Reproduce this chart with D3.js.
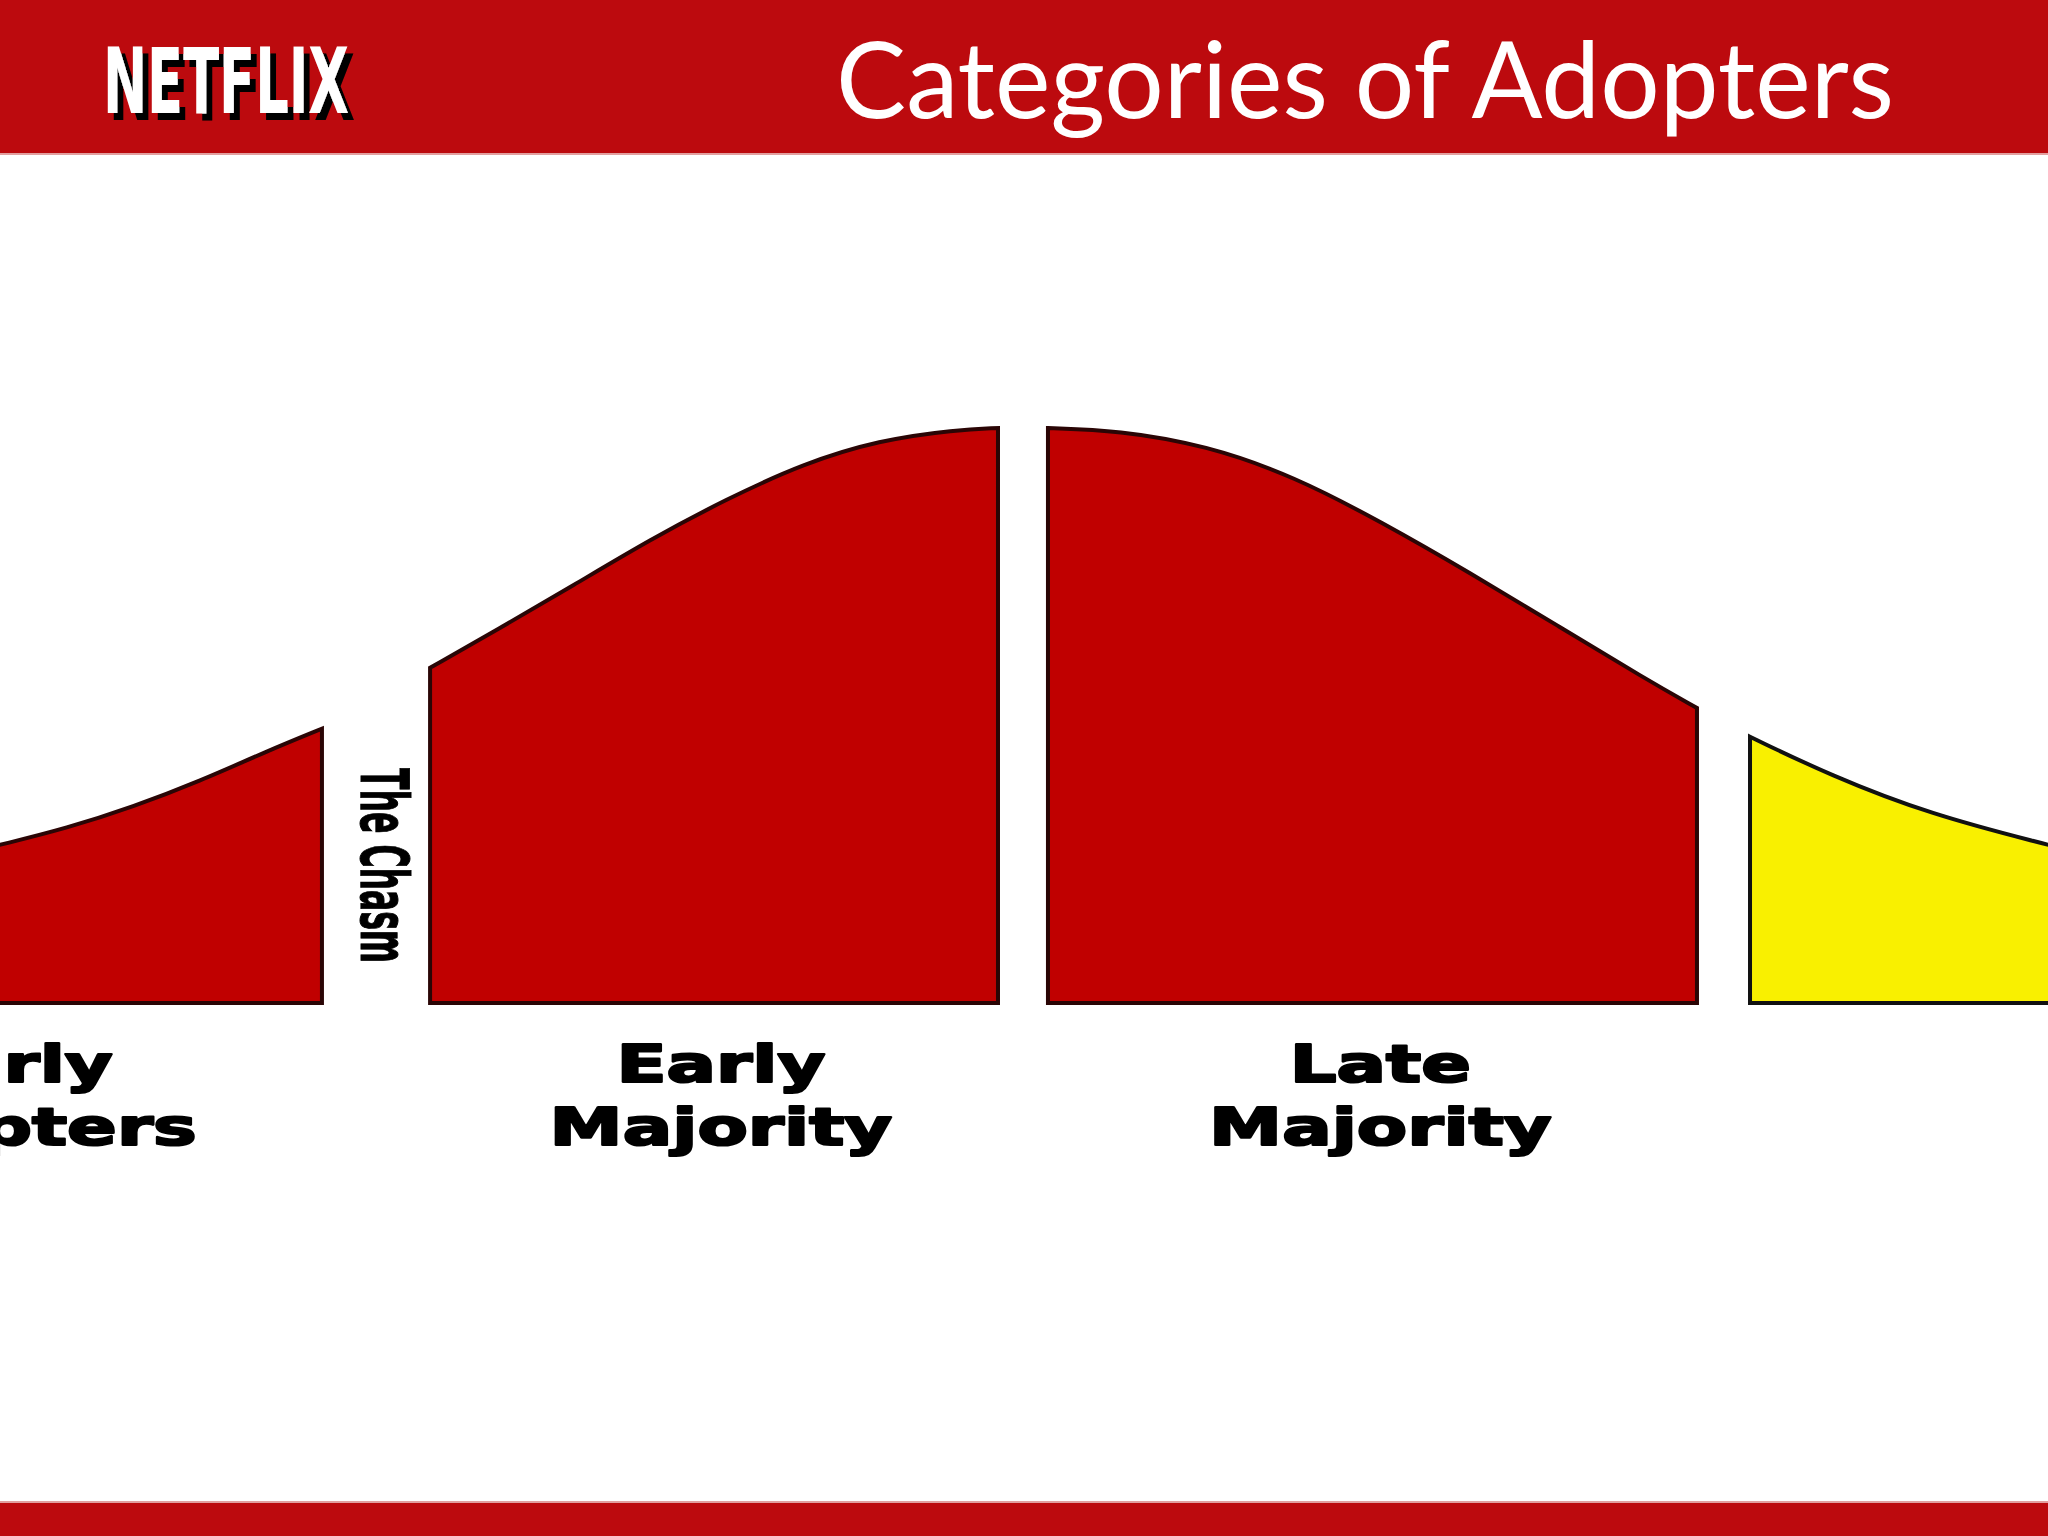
<!DOCTYPE html>
<html>
<head>
<meta charset="utf-8">
<script src="https://cdn.jsdelivr.net/npm/d3@7"></script>
<style>
  html, body { margin: 0; padding: 0; background: #ffffff; overflow: hidden; }
  svg { display: block; }
</style>
</head>
<body>
<svg id="chart" width="2048" height="1536"></svg>
<script>
// ---------------- DATA ----------------
// x: horizontal position along the adoption axis (0-100 = visible width)
// y: relative adoption density (peak = 100)
const categories = ["Early Adopters", "Early Majority", "Late Majority", "Laggards"];
const labelLines = [["Early", "Adopters"], ["Early", "Majority"], ["Late", "Majority"], ["Laggards"]];
const earlyAdoptersCurve = [[-0.6, 27.0], [0, 27.5], [3.27, 30.4], [6.49, 34.1], [9.77, 38.6], [13.04, 43.8], [15.72, 47.7]];
const earlyMajorityCurve = [[21.0, 58.3], [24.27, 64.9], [27.98, 72.6], [31.74, 80.6], [35.45, 87.6], [39.21, 93.8], [42.92, 97.9], [46.68, 99.7], [48.73, 100]];
const lateMajorityCurve = [[51.17, 100], [54.59, 99.6], [58.89, 97.0], [63.18, 91.6], [67.48, 83.6], [71.78, 74.8], [76.07, 65.6], [80.37, 56.3], [82.86, 51.3]];
const laggardsCurve = [[85.45, 46.3], [89.36, 39.6], [94.24, 32.8], [100, 27.5], [100.6, 27.0]];
const seriesCurves = [earlyAdoptersCurve, earlyMajorityCurve, lateMajorityCurve, laggardsCurve];
const chasmLabel = "The Chasm";
const titleText = "Categories of Adopters";
const logoText = "NETFLIX";

// ---------------- LAYOUT ----------------
const W = 2048, H = 1536;
const fills = ["#c00000", "#c00000", "#c00000", "#f9f000"];
const strokes = ["#2a0505", "#2a0505", "#2a0505", "#111111"];
const labelCenters = [0.4, 35.2, 67.4, 109.3];   // in x-domain units

const svg = d3.select("#chart");
const x = d3.scaleLinear().domain([0, 100]).range([0, W]);
const y = d3.scaleLinear().domain([0, 100]).range([1003, 428]);

const defs = svg.append("defs");
const f = defs.append("filter").attr("id", "logoShadow")
  .attr("x", "-10%").attr("y", "-10%").attr("width", "130%").attr("height", "140%");
f.append("feOffset").attr("in", "SourceAlpha").attr("dx", 6).attr("dy", 7).attr("result", "off");
f.append("feFlood").attr("flood-color", "#000000").attr("result", "blk");
f.append("feComposite").attr("in", "blk").attr("in2", "off").attr("operator", "in").attr("result", "sh");
const fm = f.append("feMerge");
fm.append("feMergeNode").attr("in", "sh");
fm.append("feMergeNode").attr("in", "SourceGraphic");

svg.append("rect").attr("width", W).attr("height", H).attr("fill", "#ffffff");

// header band
svg.append("rect").attr("x", 0).attr("y", 0).attr("width", W).attr("height", 153).attr("fill", "#bc0a0e");
svg.append("rect").attr("x", 0).attr("y", 153).attr("width", W).attr("height", 2).attr("fill", "#e2a0a0");
// footer band
svg.append("rect").attr("x", 0).attr("y", 1501).attr("width", W).attr("height", 2).attr("fill", "#e2a0a0");
svg.append("rect").attr("x", 0).attr("y", 1503).attr("width", W).attr("height", H - 1503).attr("fill", "#bc0a0e");

// logo
svg.append("text").attr("x", 103).attr("y", 113)
  .attr("font-family", "'DejaVu Sans Condensed', 'DejaVu Sans', sans-serif")
  .attr("font-weight", "bold").attr("font-size", 90)
  .attr("fill", "#ffffff").attr("filter", "url(#logoShadow)")
  .attr("textLength", 246).attr("lengthAdjust", "spacingAndGlyphs").text(logoText);

// title
svg.append("text").attr("x", 836).attr("y", 118)
  .attr("font-family", "Lato, 'Open Sans', sans-serif").attr("font-size", 106)
  .attr("fill", "#ffffff").attr("textLength", 1058).attr("lengthAdjust", "spacingAndGlyphs")
  .text(titleText);

// curve segments
const area = d3.area()
  .x(d => x(d[0]))
  .y0(y(0))
  .y1(d => y(d[1]))
  .curve(d3.curveBasis);

const shapes = svg.append("g");
seriesCurves.forEach((pts, i) => {
  shapes.append("path")
    .datum(pts)
    .attr("d", area)
    .attr("fill", fills[i])
    .attr("stroke", strokes[i])
    .attr("stroke-width", 4)
    .attr("stroke-linejoin", "miter")
    .attr("aria-label", categories[i]);
});

// the chasm label (rotated)
svg.append("text")
  .attr("transform", "translate(361,768) rotate(90)")
  .attr("font-family", "'DejaVu Sans Condensed', 'DejaVu Sans', sans-serif")
  .attr("font-weight", "bold").attr("font-size", 66)
  .attr("fill", "#000000").attr("stroke", "#000000").attr("stroke-width", 1)
  .attr("textLength", 195).attr("lengthAdjust", "spacingAndGlyphs")
  .text(chasmLabel);

// category labels
const lineBaselines = [1082, 1145];
labelLines.forEach((lines, i) => {
  lines.forEach((ln, j) => {
    svg.append("g")
      .attr("transform", `translate(${x(labelCenters[i])},${lineBaselines[j]}) scale(1.44,1)`)
      .append("text")
      .attr("text-anchor", "middle")
      .attr("font-family", "'DejaVu Sans', sans-serif")
      .attr("font-weight", "bold")
      .attr("font-size", 51)
      .attr("fill", "#000000")
      .attr("stroke", "#000000")
      .attr("stroke-width", 2.2)
      .attr("stroke-linejoin", "round")
      .text(ln);
  });
});
</script>
</body>
</html>
